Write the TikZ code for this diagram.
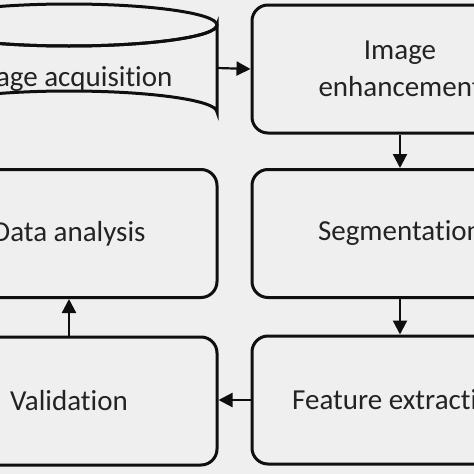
\documentclass[tikz,border=0pt]{standalone}
\usepackage{fontspec}
\setmainfont{Carlito}[RawFeature={-liga;-clig;-dlig;-calt;-rlig}]
\usetikzlibrary{arrows.meta}
\definecolor{bgc}{RGB}{239,239,239}
\definecolor{ink}{RGB}{15,15,15}
\definecolor{txt}{RGB}{35,35,35}
\newcommand{\brk}{\kern0pt}
\begin{document}
\begin{tikzpicture}[x=1pt,y=-1pt,
  box/.style={draw=ink, line width=3pt, rounded corners=16pt, fill=bgc,
    minimum width=296pt, minimum height=128pt, inner sep=0pt,
    font=\fontsize{29}{37}\selectfont, text=txt, align=center},
  plain/.style={draw=none, minimum width=296pt, minimum height=130pt, inner sep=0pt,
    font=\fontsize{29}{37}\selectfont, text=txt, align=center},
  flow/.style={draw=ink, line width=2.2pt, -{Triangle[length=14pt,width=14pt]}}]
\useasboundingbox (0,0) rectangle (474,474);
\clip (0,0) rectangle (474,474);
\fill[bgc] (0,0) rectangle (474,474);
% cylinder
\draw[ink, line width=3pt, fill=bgc] (-79,25) -- (-79,112)
  arc[start angle=180, end angle=360, x radius=148, y radius=21] -- (217,25)
  arc[start angle=0, end angle=180, x radius=148, y radius=21] -- cycle;
\draw[ink, line width=3pt] (69,25) ellipse[x radius=148, y radius=21];
\node[plain] (acq) at (69,68) {};
\node[font=\fontsize{29}{37}\selectfont, text=txt] (acqtext) at (69,79) {Image acquisit\brk ion};
\node[box] (enh) at (400,69) {Image\\enhancement};
\node[box] (seg) at (400,233.5) {Segmentat\brk ion};
\node[box] (da) at (69,233.5) {Data analysis};
\node[box] (fe) at (400,400) {Feature extract\brk ion};
\node[box] (val) at (69,401) {Validat\brk ion};
\draw[flow] (acq.east) -- (enh.west);
\draw[flow] (enh.south) -- (seg.north);
\draw[flow] (seg.south) -- (fe.north);
\draw[flow] (fe.west) -- (val.east |- fe.west);
\draw[flow] (val.north) -- (da.south);
\end{tikzpicture}
\end{document}
